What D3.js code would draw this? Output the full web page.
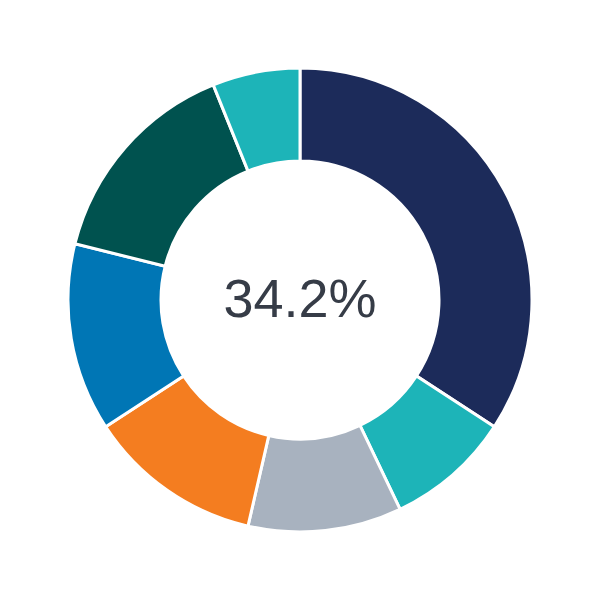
<!DOCTYPE html>
<html>
<head>
<meta charset="utf-8">
<script src="https://cdn.jsdelivr.net/npm/d3@7"></script>
<style>
  body { margin: 0; background: #fff; }
</style>
</head>
<body>
<svg id="chart" width="600" height="600"></svg>
<script>
// slice values (percent), clockwise from 12 o'clock
const segments = ["A", "B", "C", "D", "E", "F", "G"];
const values = [34.2, 8.7, 10.7, 12.2, 13.1, 15.0, 6.1];
const colors = ["#1c2b5a", "#1db4b8", "#a8b2bf", "#f47d20", "#0076b5", "#00524f", "#1db4b8"];
const centerLabel = "34.2%";

const width = 600, height = 600;
const outerRadius = 232, innerRadius = 139;

const svg = d3.select("#chart");
const g = svg.append("g").attr("transform", `translate(${width / 2}, ${height / 2})`);

const data = segments.map((s, i) => ({ name: s, value: values[i], color: colors[i] }));

const pie = d3.pie().value(d => d.value).sort(null);
const arc = d3.arc().innerRadius(innerRadius).outerRadius(outerRadius);

g.selectAll(".slice")
    .data(pie(data))
    .join("path")
    .attr("class", "slice")
    .attr("d", arc)
    .attr("fill", d => d.data.color)
    .attr("stroke", "#fff")
    .attr("stroke-width", 3)
    .attr("stroke-linejoin", "miter");

g.append("text")
    .text(centerLabel)
    .attr("text-anchor", "middle")
    .attr("dominant-baseline", "central")
    .attr("y", -2)
    .attr("font-family", "'Liberation Sans', Arial, sans-serif")
    .attr("font-size", 54)
    .attr("fill", "#363c47");
</script>
</body>
</html>
